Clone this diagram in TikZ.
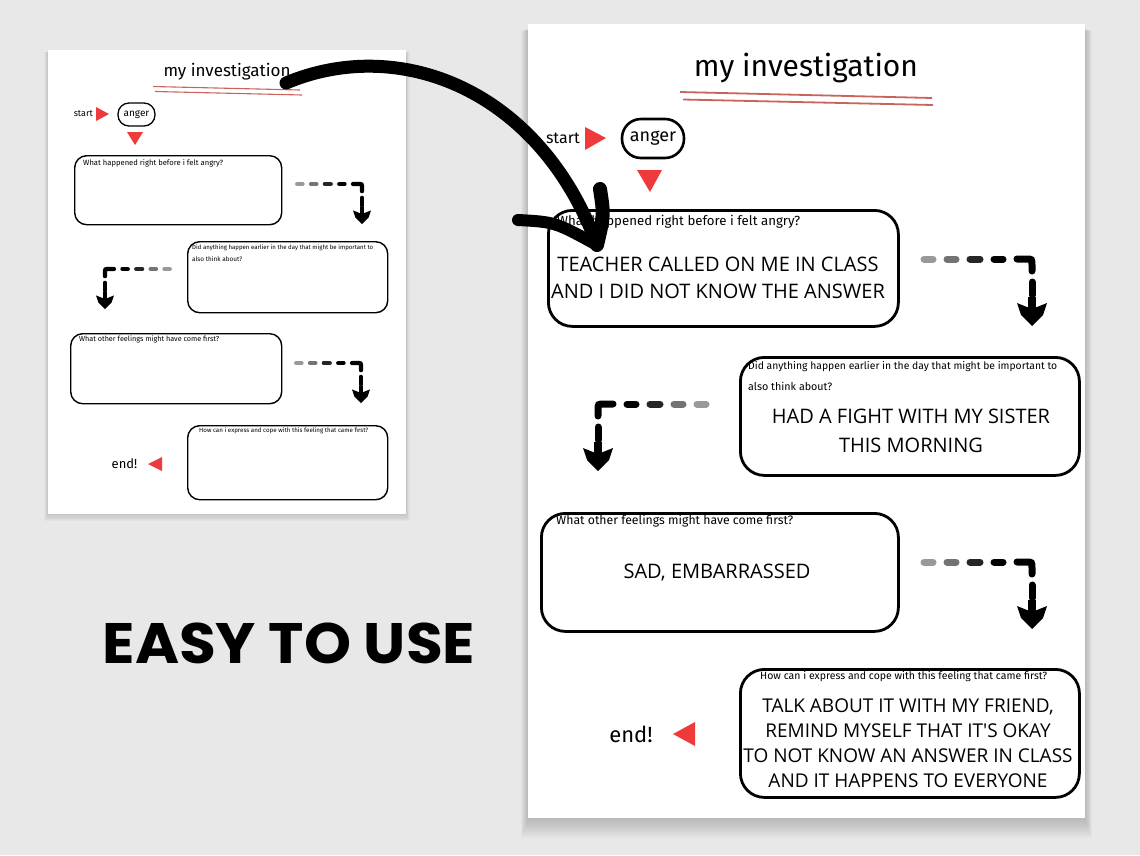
\documentclass[tikz,border=0pt]{standalone}
\usepackage{fontspec}
\setmainfont{Open Sans}[Ligatures=TeXOff]
\newfontfamily\hand{Fira Sans}
\newfontfamily\headf{Poppins}
\definecolor{bg}{HTML}{E8E8E8}
\definecolor{myred}{HTML}{EE3A3A}
\definecolor{ulred}{HTML}{C8645C}
\newcommand\fw[2]{\resizebox{#1}{!}{#2}}
\tikzset{
  brushlw/.store in=\bw, brushlw=7,
  bigbox/.style={draw, line width=2.8, rounded corners=24, fill=white, inner sep=0},
  smallbox/.style={draw, line width=1.4, rounded corners=12, fill=white, inner sep=0},
  lab/.style={anchor=west, inner sep=0},
  content/.style={font=\fontsize{20}{27}\selectfont, align=center, inner sep=0},
  handtxt/.style={font=\hand, inner sep=0},
  brusharrow/.pic={
    \draw[line width=\bw, line cap=round, black!40] (-108,0) -- (-99,0);
    \draw[line width=\bw, line cap=round, black!55] (-85,0) -- (-76,0);
    \draw[line width=\bw, line cap=round, black!85] (-62,0) -- (-52,0);
    \draw[line width=\bw, line cap=round] (-38,0) -- (-29,0);
    \draw[line width=\bw, line cap=round] (-15,0) -- (-6,0) .. controls (0,0) .. (0,6) -- (0,12);
    \draw[line width=\bw, line cap=round] (0,23) -- (0,36);
    \fill (-4,38) rectangle (4,54);
    \fill (-15,44) -- (0,50) -- (15,44) -- (11,56) -- (0,67) -- (-11,56) -- cycle;
  }
}
\begin{document}
\begin{tikzpicture}[x=1pt,y=-1pt]
\useasboundingbox (0,0) rectangle (1140,855);
\fill[bg] (0,0) rectangle (1140,855);

% ---------- shadows ----------
\foreach \i in {1,...,10}
  \fill[black, opacity=0.02] (528-\i*0.7, 28+\i*0.3) rectangle (1085+\i*0.7, 818+\i*2);
\foreach \i in {1,...,6}
  \fill[black, opacity=0.025] (48-\i*0.6, 52) rectangle (406+\i*0.6, 514+\i*1.2);

% ---------- pages ----------
\node[fill=white, inner sep=0, minimum width=358, minimum height=464, anchor=north west] (p1) at (48,50) {};
\node[fill=white, inner sep=0, minimum width=557, minimum height=794, anchor=north west] (p2) at (528,24) {};

% ================= small page =================
\node[handtxt, font=\hand\fontsize{17}{17}\selectfont] (st1) at (227,72) {my investigation};
\draw[ulred, line width=1.1] (153,86.5) -- (300,90);
\draw[ulred, line width=1.1] (155,91.5) -- (302,95);

\node[handtxt, font=\hand\fontsize{9}{9}\selectfont, anchor=east] (sstart) at (93,114) {start};
\fill[myred] (96,107) -- (96,121) -- (109,114) -- cycle;
\node[draw, line width=1.3, rounded corners=11, minimum width=37, minimum height=23, inner sep=0, font=\hand\fontsize{10}{10}\selectfont] (sanger) at (136.5,114.5) {anger};
\fill[myred] (127,132) -- (143,132) -- (135,145) -- cycle;

\node[smallbox, minimum width=207, minimum height=69, anchor=north west] (sb1) at (74,155) {};
\node[lab] (sl1) at (83,163) {\fw{140pt}{\hand What happened right before i felt angry?}};
\node[smallbox, minimum width=200, minimum height=71, anchor=north west] (sb2) at (187,241) {};
\node[lab] (sl2a) at (192,248) {\fw{181pt}{\hand Did anything happen earlier in the day that might be important to}};
\node[lab] (sl2b) at (192,259) {\fw{50pt}{\hand also think about?}};
\node[smallbox, minimum width=211, minimum height=70, anchor=north west] (sb3) at (70,333) {};
\node[lab] (sl3) at (79,339) {\fw{140pt}{\hand What other feelings might have come first?}};
\node[smallbox, minimum width=200, minimum height=74, anchor=north west] (sb4) at (187,425) {};
\node[lab] (sl4) at (199,431) {\fw{169pt}{\hand How can i express and cope with this feeling that came first?}};

\node[handtxt, font=\hand\fontsize{13}{13}\selectfont] (send) at (124.5,464) {end!};
\fill[myred] (148,464) -- (162,457) -- (162,471) -- cycle;

\pic[scale=0.6, brushlw=4.2] at (362,184) {brusharrow};
\pic[xscale=-0.6, yscale=0.6, brushlw=4.2] at (105,269) {brusharrow};
\pic[scale=0.6, brushlw=4.2] at (361,363) {brusharrow};

% ================= large page =================
\node[handtxt, font=\hand\fontsize{30}{30}\selectfont] (t2) at (806,68) {my investigation};
\draw[ulred, line width=1.8] (680,92) -- (932,98);
\draw[ulred, line width=1.8] (683,99.5) -- (933,105);

\node[handtxt, font=\hand\fontsize{16}{16}\selectfont, anchor=east] (start) at (580,138) {start};
\fill[myred] (585,127) -- (585,150) -- (606,138) -- cycle;
\node[draw, line width=2.6, rounded corners=19, minimum width=62, minimum height=39, inner sep=0, font=\hand\fontsize{18}{18}\selectfont] (anger) at (653,138.5) {anger};
\fill[myred] (637,170) -- (662,170) -- (650,192) -- cycle;

\node[bigbox, minimum width=350, minimum height=116, anchor=north west] (b1) at (547,209) {};
\node[lab] (l1) at (557,222) {\fw{243pt}{\hand What happened right before i felt angry?}};
\node[content] (c1) at (718,277.5) {TEACHER CALLED ON ME IN CLASS\\AND I DID NOT KNOW THE ANSWER};

\node[bigbox, minimum width=339, minimum height=118, anchor=north west] (b2) at (739,356) {};
\node[lab] (l2a) at (748,367) {\fw{309pt}{\hand Did anything happen earlier in the day that might be important to}};
\node[lab] (l2b) at (748,386) {\fw{84pt}{\hand also think about?}};
\node[content, font=\fontsize{20}{29}\selectfont] (c2) at (911,430.5) {HAD A FIGHT WITH MY SISTER\\THIS MORNING};

\node[bigbox, minimum width=357, minimum height=118, anchor=north west] (b3) at (540,512) {};
\node[lab] (l3) at (556,521) {\fw{237pt}{\hand What other feelings might have come first?}};
\node[content] (c3) at (717,573) {SAD, EMBARRASSED};

\node[bigbox, minimum width=339, minimum height=128, anchor=north west] (b4) at (739,668) {};
\node[lab] (l4) at (760,677) {\fw{287pt}{\hand How can i express and cope with this feeling that came first?}};
\node[content, font=\fontsize{19}{25}\selectfont] (c4) at (908,743.5) {TALK ABOUT IT WITH MY FRIEND,\\REMIND MYSELF THAT IT'S OKAY\\TO NOT KNOW AN ANSWER IN CLASS\\AND IT HAPPENS TO EVERYONE};

\node[handtxt, font=\hand\fontsize{22}{22}\selectfont] (end) at (631,734) {end!};
\fill[myred] (673,734) -- (695,722) -- (695,746) -- cycle;

\pic at (1032,259) {brusharrow};
\pic[xscale=-1] at (598,404) {brusharrow};
\pic at (1032,562) {brusharrow};

% ---------- EASY TO USE ----------
\node[font=\headf\bfseries\fontsize{57}{57}\selectfont, inner sep=0] (easy) at (289,643) {\scalebox{1.05}[1]{EASY TO USE}};

% ---------- big curved arrow ----------
\coordinate (a0) at (286,83);
\coordinate (a1) at (597,245);
\draw[line width=13, line cap=round] (a0) .. controls (400,35) and (540,90) .. (a1);
\draw[line width=12, line cap=round] (518,220) .. controls (555,222) .. (a1);
\draw[line width=14, line cap=round] (600,189) .. controls (604,215) .. (a1);
\end{tikzpicture}
\end{document}
